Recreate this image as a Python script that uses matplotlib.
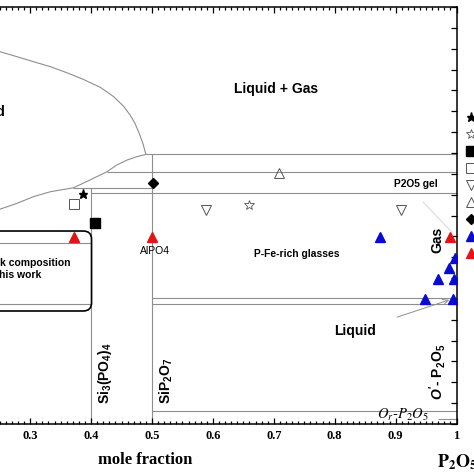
import matplotlib.pyplot as plt
from matplotlib.lines import Line2D
from matplotlib.patches import FancyBboxPatch
from matplotlib.ticker import MultipleLocator, FuncFormatter

plt.rcParams['font.family'] = ['Liberation Sans', 'DejaVu Sans']
plt.rcParams['mathtext.fontset'] = 'custom'
plt.rcParams['mathtext.rm'] = 'Liberation Sans:bold'
plt.rcParams['mathtext.bf'] = 'Liberation Sans:bold'
plt.rcParams['mathtext.it'] = 'Liberation Sans:italic:bold'

GRAY = '#8e8e8e'
BLUE = '#0a0ad2'
RED = '#e01515'

# phase boundaries (x = mole fraction P2O5, y = arbitrary temperature scale)
liq_x = [0.240, 0.250, 0.278, 0.305, 0.333, 0.360, 0.387, 0.415, 0.437, 0.453, 0.464, 0.472, 0.479, 0.485, 0.490]
liq_y = [1795, 1786, 1762, 1738, 1714, 1685, 1653, 1615, 1570, 1525, 1482, 1442, 1394, 1346, 1293]
low_x = [0.240, 0.250, 0.278, 0.305, 0.333, 0.371, 0.398, 0.426, 0.442, 0.459, 0.475, 0.490]
low_y = [1020, 1030, 1058, 1090, 1114, 1133, 1170, 1210, 1242, 1266, 1282, 1293]

h_y = [1293, 1208, 1133, 1110, 604, 575, 60, 24, 868, 575]
h_x0 = [0.490, 0.426, 0.371, 0.400, 0.5, 0.5, 0.5, 0.970, 0.0, 0.0]
h_x1 = [1.0, 1.0, 0.5, 1.0, 1.0, 1.0, 1.0, 1.0, 0.4, 0.4]
v_x = [0.4, 0.5]
v_top = [1133, 1293]

# data points
bulk_x = [0.372, 0.500, 0.989]
bulk_y = [897, 897, 897]
glass_x = [0.874, 0.998, 0.988, 0.970, 0.996, 0.949, 0.994]
glass_y = [897, 796, 746, 695, 695, 600, 600]
star_f = (0.387, 1103)
star_o = (0.659, 1050)
sq_f = (0.406, 964)
sq_o = (0.372, 1055)
tri_dn_x = [0.589, 0.909]
tri_dn_y = [1026, 1026]
tri_up = (0.709, 1204)
diam = (0.502, 1156)

legend_labels = ['Ref. A', 'Ref. B', 'Ref. C', 'Ref. D', 'Ref. E', 'Ref. F', 'Ref. G',
                 'P-Fe-rich glasses', 'Bulk composition']

fig = plt.figure(figsize=(4.74, 4.74), dpi=100)
ax = fig.add_axes([-0.3217, 0.1055, 1.2848, 0.8797])
ax.set_xlim(0, 1)
ax.set_ylim(0, 2000)

lk = dict(color=GRAY, lw=0.8, zorder=1)
ax.plot(liq_x, liq_y, **lk)
ax.plot(low_x, low_y, **lk)
ax.hlines(h_y, h_x0, h_x1, **lk)
ax.vlines(v_x, 0, v_top, **lk)

# rounded box
box = FancyBboxPatch((0.05, 0.271), 0.3507, 0.1918, transform=ax.transAxes,
                     boxstyle='round,pad=0,rounding_size=0.0135', mutation_aspect=609 / 417,
                     fc='none', ec='black', lw=1.2, zorder=2)
ax.add_patch(box)
ax.text(0.2228, 743, 'Bulk composition\nof this work', fontsize=7.5, fontweight='bold',
        ha='left', va='center', linespacing=1.2)

ms_k = dict(linestyle='none', zorder=4)
ax.plot(*star_f, marker='*', color='black', ms=6.5, **ms_k)
ax.plot(*star_o, marker='*', mfc='none', mec='#555555', mew=0.6, ms=7, **ms_k)
ax.plot(*sq_f, marker='s', color='black', ms=6.5, **ms_k)
ax.plot(*sq_o, marker='s', mfc='none', mec='#555555', mew=0.7, ms=7, **ms_k)
ax.plot(tri_dn_x, tri_dn_y, marker='v', mfc='none', mec='#555555', mew=0.7, ms=7.5, **ms_k)
ax.plot(*tri_up, marker='^', mfc='none', mec='#555555', mew=0.7, ms=7.5, **ms_k)
ax.plot(*diam, marker='D', color='black', ms=5, **ms_k)
ax.plot(glass_x, glass_y, marker='^', color=BLUE, ms=7, **ms_k)
ax.plot(bulk_x, bulk_y, marker='^', color=RED, ms=7, **ms_k)

# labels
ax.text(0.7036, 1607, 'Liquid + Gas', fontsize=10, fontweight='bold', ha='center', va='center')
ax.text(0.2586, 1496, 'Liquid', fontsize=10, fontweight='bold', ha='right', va='center')
ax.text(0.9335, 1151, 'P2O5 gel', fontsize=7.4, fontweight='bold', ha='center', va='center')
ax.plot([0.945, 0.992], [1065, 921], color='#d0d0d0', lw=0.6, zorder=1)
ax.text(0.738, 815, 'P-Fe-rich glasses', fontsize=7.4, fontweight='bold', ha='center', va='center')
ax.text(0.505, 830, 'AlPO4', fontsize=7.5, ha='center', va='center')
ax.text(0.969, 882, 'Gas', fontsize=10, fontweight='bold', rotation=90, ha='center', va='center')
ax.annotate('Liquid', xy=(0.988, 595), xytext=(0.8333, 446), fontsize=10, fontweight='bold',
            ha='center', va='center',
            arrowprops=dict(arrowstyle='->', color=GRAY, lw=0.7, shrinkA=14, shrinkB=0))
ax.text(0.4228, 96, r'Si$_3$(PO$_4$)$_4$', fontsize=10, fontweight='bold', rotation=90,
        ha='center', va='bottom')
ax.text(0.523, 96, r'SiP$_2$O$_7$', fontsize=10, fontweight='bold', rotation=90,
        ha='center', va='bottom')
ax.text(0.968, 115, r"$O'$- P$_2$O$_5$", fontsize=10, fontweight='bold', rotation=90,
        ha='center', va='bottom')
ax.text(0.912, 43, r'$O_r$-$P_2O_5$', fontsize=10.5, math_fontfamily='stix',
        ha='center', va='center')

# axes styling
for s in ax.spines.values():
    s.set_linewidth(1.1)
ax.xaxis.set_major_locator(MultipleLocator(0.1))
ax.xaxis.set_minor_locator(MultipleLocator(0.01))
ax.yaxis.set_major_locator(MultipleLocator(100))
ax.xaxis.set_major_formatter(FuncFormatter(lambda v, p: f'{v:g}'))
ax.tick_params(which='both', direction='in', top=True, right=True, left=True, width=0.9)
ax.tick_params(which='major', length=4.3, pad=4)
ax.tick_params(which='minor', length=2.2)
ax.tick_params(axis='y', labelleft=False)
for lab in ax.get_xticklabels():
    lab.set_fontfamily('Liberation Serif')
    lab.set_fontweight('bold')
    lab.set_fontsize(9)

ax.set_xlabel('mole fraction', fontfamily='Liberation Serif', fontweight='bold',
              fontsize=12, va='center')
ax.xaxis.set_label_coords(0.4885, -0.0863)
ax.text(0.968, -0.091, r'$\mathbf{P_2O_5}$', transform=ax.transAxes, fontsize=13,
        math_fontfamily='stix', ha='left', va='center', clip_on=False)

handles = [
    Line2D([], [], marker='*', color='black', ms=6.5, ls='none'),
    Line2D([], [], marker='*', mfc='none', mec='#555555', mew=0.6, ms=7, ls='none'),
    Line2D([], [], marker='s', color='black', ms=6.5, ls='none'),
    Line2D([], [], marker='s', mfc='none', mec='#555555', mew=0.7, ms=7, ls='none'),
    Line2D([], [], marker='v', mfc='none', mec='#555555', mew=0.7, ms=7.5, ls='none'),
    Line2D([], [], marker='^', mfc='none', mec='#555555', mew=0.7, ms=7.5, ls='none'),
    Line2D([], [], marker='D', color='black', ms=5, ls='none'),
    Line2D([], [], marker='^', color=BLUE, ms=7, ls='none'),
    Line2D([], [], marker='^', color=RED, ms=7, ls='none'),
]
fig.legend(handles, legend_labels, loc='upper left', bbox_to_anchor=(465 / 474, 1 - 113 / 474),
           frameon=False, fontsize=8, borderpad=0, borderaxespad=0, handlelength=1.0,
           handletextpad=0.5, labelspacing=0.63, numpoints=1)

fig.savefig('out.png', dpi=100)
